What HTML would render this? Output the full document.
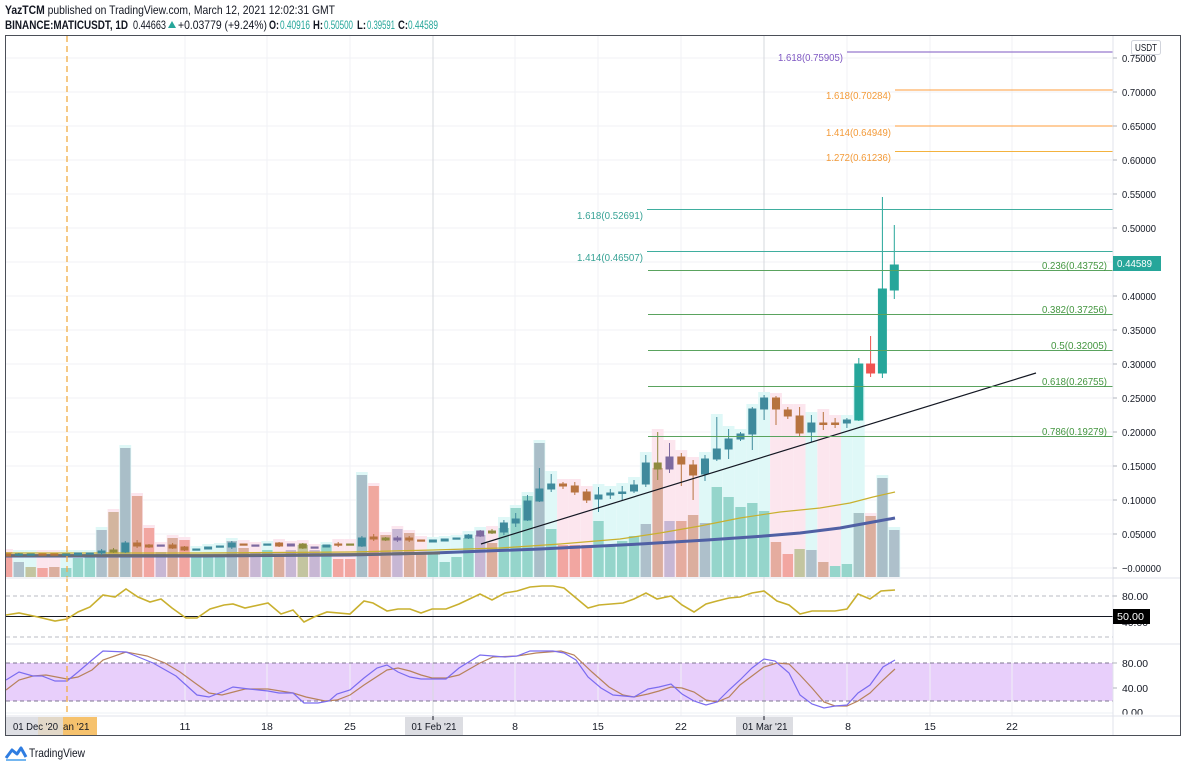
<!DOCTYPE html>
<html><head><meta charset="utf-8"><style>
html,body{margin:0;padding:0;background:#fff;}
svg{display:block;font-family:"Liberation Sans",sans-serif;}
</style></head><body>
<svg width="1186" height="768" viewBox="0 0 1186 768" xmlns="http://www.w3.org/2000/svg">
<rect width="1186" height="768" fill="#fff"/>
<!-- header -->
<text x="5" y="14" font-size="12" fill="#131722" textLength="330" lengthAdjust="spacingAndGlyphs"><tspan font-weight="bold">YazTCM</tspan> published on TradingView.com, March 12, 2021 12:02:31 GMT</text>
<g font-size="12" fill="#131722">
<text x="5" y="29" font-weight="bold" textLength="123" lengthAdjust="spacingAndGlyphs">BINANCE:MATICUSDT, 1D</text>
<text x="133" y="29" textLength="33" lengthAdjust="spacingAndGlyphs">0.44663</text>
<polygon points="168,28 172,21 176,28" fill="#26a69a"/>
<text x="178" y="29" textLength="89" lengthAdjust="spacingAndGlyphs">+0.03779 (+9.24%)</text>
<text x="269" y="29" font-weight="bold" textLength="10" lengthAdjust="spacingAndGlyphs">O:</text>
<text x="280" y="29" fill="#26a69a" textLength="30" lengthAdjust="spacingAndGlyphs">0.40916</text>
<text x="313" y="29" font-weight="bold" textLength="10" lengthAdjust="spacingAndGlyphs">H:</text>
<text x="324" y="29" fill="#26a69a" textLength="29" lengthAdjust="spacingAndGlyphs">0.50500</text>
<text x="357" y="29" font-weight="bold" textLength="9" lengthAdjust="spacingAndGlyphs">L:</text>
<text x="367" y="29" fill="#26a69a" textLength="28" lengthAdjust="spacingAndGlyphs">0.39591</text>
<text x="398" y="29" font-weight="bold" textLength="10" lengthAdjust="spacingAndGlyphs">C:</text>
<text x="408" y="29" fill="#26a69a" textLength="30" lengthAdjust="spacingAndGlyphs">0.44589</text>
</g>

<!-- stoch fill -->
<rect x="6" y="663" width="1107" height="38" fill="#e8cffb"/>

<!-- grid -->
<g stroke="#f0f2f6" stroke-width="1">
<line x1="6" y1="58" x2="1113" y2="58"/><line x1="6" y1="92" x2="1113" y2="92"/><line x1="6" y1="126" x2="1113" y2="126"/><line x1="6" y1="160" x2="1113" y2="160"/><line x1="6" y1="194" x2="1113" y2="194"/><line x1="6" y1="228" x2="1113" y2="228"/><line x1="6" y1="262" x2="1113" y2="262"/><line x1="6" y1="296" x2="1113" y2="296"/><line x1="6" y1="330" x2="1113" y2="330"/><line x1="6" y1="364" x2="1113" y2="364"/><line x1="6" y1="398" x2="1113" y2="398"/><line x1="6" y1="432" x2="1113" y2="432"/><line x1="6" y1="466" x2="1113" y2="466"/><line x1="6" y1="500" x2="1113" y2="500"/><line x1="6" y1="534" x2="1113" y2="534"/><line x1="6" y1="568" x2="1113" y2="568"/>
<line x1="185" y1="36" x2="185" y2="716"/><line x1="267" y1="36" x2="267" y2="716"/><line x1="350" y1="36" x2="350" y2="716"/><line x1="515" y1="36" x2="515" y2="716"/><line x1="598" y1="36" x2="598" y2="716"/><line x1="681" y1="36" x2="681" y2="716"/><line x1="847" y1="36" x2="847" y2="716"/><line x1="930" y1="36" x2="930" y2="716"/><line x1="1012" y1="36" x2="1012" y2="716"/>
</g>
<g stroke="#d6d8de" stroke-width="1">
<line x1="433" y1="36" x2="433" y2="716"/><line x1="764" y1="36" x2="764" y2="716"/>
</g>

<!-- background columns -->
<g>
<g fill="#dff8f7">
<rect x="12.9" y="550" width="11.8" height="27"/><rect x="24.8" y="550" width="11.8" height="27"/><rect x="60.3" y="550" width="11.8" height="27"/><rect x="72.1" y="550" width="11.8" height="27"/><rect x="83.9" y="550" width="11.8" height="27"/><rect x="95.7" y="527" width="11.8" height="50"/><rect x="119.4" y="445" width="11.8" height="132"/><rect x="190.4" y="546" width="11.8" height="31"/><rect x="202.2" y="544" width="11.8" height="33"/><rect x="214" y="543" width="11.8" height="34"/><rect x="225.9" y="538" width="11.8" height="39"/><rect x="261.4" y="541" width="11.8" height="36"/><rect x="320.5" y="542" width="11.8" height="35"/><rect x="356" y="472" width="11.8" height="105"/><rect x="427" y="537" width="11.8" height="40"/><rect x="438.8" y="536" width="11.8" height="41"/><rect x="450.6" y="535" width="11.8" height="42"/><rect x="462.5" y="531" width="11.8" height="46"/><rect x="474.3" y="527" width="11.8" height="50"/><rect x="498" y="517" width="11.8" height="60"/><rect x="509.8" y="505" width="11.8" height="72"/><rect x="521.6" y="492" width="11.8" height="85"/><rect x="533.5" y="440" width="11.8" height="137"/><rect x="545.3" y="471" width="11.8" height="106"/><rect x="592.6" y="484" width="11.8" height="93"/><rect x="604.4" y="486" width="11.8" height="91"/><rect x="616.3" y="483" width="11.8" height="94"/><rect x="628.1" y="477" width="11.8" height="100"/><rect x="639.9" y="452" width="11.8" height="125"/><rect x="699.1" y="452" width="11.8" height="125"/><rect x="710.9" y="414" width="11.8" height="163"/><rect x="722.7" y="426" width="11.8" height="151"/><rect x="734.6" y="429" width="11.8" height="148"/><rect x="746.4" y="404" width="11.8" height="173"/><rect x="758.2" y="392" width="11.8" height="185"/><rect x="805.5" y="412" width="11.8" height="165"/><rect x="841" y="415" width="11.8" height="162"/><rect x="852.9" y="384" width="11.8" height="193"/><rect x="876.5" y="475" width="11.8" height="102"/><rect x="888.4" y="527" width="11.8" height="50"/>
</g>
<g fill="#fce6ee">
<rect x="6" y="549" width="6.9" height="28"/><rect x="36.6" y="550" width="11.8" height="27"/><rect x="48.4" y="550" width="11.8" height="27"/><rect x="107.6" y="509" width="11.8" height="68"/><rect x="131.2" y="493" width="11.8" height="84"/><rect x="143.1" y="525" width="11.8" height="52"/><rect x="154.9" y="542" width="11.8" height="35"/><rect x="166.7" y="535" width="11.8" height="42"/><rect x="178.6" y="537" width="11.8" height="40"/><rect x="237.7" y="540" width="11.8" height="37"/><rect x="249.5" y="542" width="11.8" height="35"/><rect x="273.2" y="539" width="11.8" height="38"/><rect x="285" y="541" width="11.8" height="36"/><rect x="296.9" y="540" width="11.8" height="37"/><rect x="308.7" y="544" width="11.8" height="33"/><rect x="332.3" y="539" width="11.8" height="38"/><rect x="344.2" y="539" width="11.8" height="38"/><rect x="367.8" y="483" width="11.8" height="94"/><rect x="379.7" y="532" width="11.8" height="45"/><rect x="391.5" y="526" width="11.8" height="51"/><rect x="403.3" y="530" width="11.8" height="47"/><rect x="415.2" y="536" width="11.8" height="41"/><rect x="486.1" y="526" width="11.8" height="51"/><rect x="557.1" y="479" width="11.8" height="98"/><rect x="568.9" y="479" width="11.8" height="98"/><rect x="580.8" y="486" width="11.8" height="91"/><rect x="651.8" y="429" width="11.8" height="148"/><rect x="663.6" y="440" width="11.8" height="137"/><rect x="675.4" y="450" width="11.8" height="127"/><rect x="687.2" y="457" width="11.8" height="120"/><rect x="770.1" y="393" width="11.8" height="184"/><rect x="781.9" y="404" width="11.8" height="173"/><rect x="793.7" y="404" width="11.8" height="173"/><rect x="817.4" y="409" width="11.8" height="168"/><rect x="829.2" y="415" width="11.8" height="162"/><rect x="864.7" y="513" width="11.8" height="64"/>
</g>
</g>

<!-- volume bars -->
<g>
<rect x="6" y="552" width="6.2" height="25" fill="#f2a6a1"/>
<rect x="13.6" y="562" width="10.4" height="15" fill="#aec0cb"/>
<rect x="25.5" y="567" width="10.4" height="10" fill="#c3c5a0"/>
<rect x="37.3" y="568" width="10.4" height="9" fill="#f2a6a1"/>
<rect x="49.1" y="567" width="10.4" height="10" fill="#dbae9e"/>
<rect x="61" y="568" width="10.4" height="9" fill="#95d5cb"/>
<rect x="72.8" y="558" width="10.4" height="19" fill="#95d5cb"/>
<rect x="84.6" y="557" width="10.4" height="20" fill="#95d5cb"/>
<rect x="96.4" y="530" width="10.4" height="47" fill="#aec0cb"/>
<rect x="108.3" y="512" width="10.4" height="65" fill="#d3b59e"/>
<rect x="120.1" y="448" width="10.4" height="129" fill="#a9bec8"/>
<rect x="131.9" y="496" width="10.4" height="81" fill="#e2aa9b"/>
<rect x="143.8" y="528" width="10.4" height="49" fill="#f2a6a1"/>
<rect x="155.6" y="552" width="10.4" height="25" fill="#c7b7d4"/>
<rect x="167.4" y="538" width="10.4" height="39" fill="#dbae9e"/>
<rect x="179.3" y="540" width="10.4" height="37" fill="#f2a6a1"/>
<rect x="191.1" y="557" width="10.4" height="20" fill="#95d5cb"/>
<rect x="202.9" y="557" width="10.4" height="20" fill="#95d5cb"/>
<rect x="214.7" y="557" width="10.4" height="20" fill="#95d5cb"/>
<rect x="226.6" y="541" width="10.4" height="36" fill="#aec0cb"/>
<rect x="238.4" y="548" width="10.4" height="29" fill="#dbae9e"/>
<rect x="250.2" y="553" width="10.4" height="24" fill="#c7b7d4"/>
<rect x="262.1" y="550" width="10.4" height="27" fill="#95d5cb"/>
<rect x="273.9" y="555" width="10.4" height="22" fill="#dbae9e"/>
<rect x="285.7" y="550" width="10.4" height="27" fill="#c7b7d4"/>
<rect x="297.6" y="545" width="10.4" height="32" fill="#c3c5a0"/>
<rect x="309.4" y="550" width="10.4" height="27" fill="#c7b7d4"/>
<rect x="321.2" y="545" width="10.4" height="32" fill="#95d5cb"/>
<rect x="333" y="559" width="10.4" height="18" fill="#f2a6a1"/>
<rect x="344.9" y="559" width="10.4" height="18" fill="#f2a6a1"/>
<rect x="356.7" y="475" width="10.4" height="102" fill="#a9bec8"/>
<rect x="368.5" y="486" width="10.4" height="91" fill="#f0a89f"/>
<rect x="380.4" y="535" width="10.4" height="42" fill="#dbae9e"/>
<rect x="392.2" y="529" width="10.4" height="48" fill="#c7b7d4"/>
<rect x="404" y="533" width="10.4" height="44" fill="#dbae9e"/>
<rect x="415.9" y="553" width="10.4" height="24" fill="#dbae9e"/>
<rect x="427.7" y="553" width="10.4" height="24" fill="#95d5cb"/>
<rect x="439.5" y="562" width="10.4" height="15" fill="#95d5cb"/>
<rect x="451.3" y="557" width="10.4" height="20" fill="#95d5cb"/>
<rect x="463.2" y="538" width="10.4" height="39" fill="#95d5cb"/>
<rect x="475" y="535" width="10.4" height="42" fill="#c7b7d4"/>
<rect x="486.8" y="543" width="10.4" height="34" fill="#dbae9e"/>
<rect x="498.7" y="528" width="10.4" height="49" fill="#95d5cb"/>
<rect x="510.5" y="508" width="10.4" height="69" fill="#95d5cb"/>
<rect x="522.3" y="496" width="10.4" height="81" fill="#95d5cb"/>
<rect x="534.2" y="443" width="10.4" height="134" fill="#a9bec8"/>
<rect x="546" y="529" width="10.4" height="48" fill="#95d5cb"/>
<rect x="557.8" y="545" width="10.4" height="32" fill="#f2a6a1"/>
<rect x="569.6" y="545" width="10.4" height="32" fill="#f2a6a1"/>
<rect x="581.5" y="545" width="10.4" height="32" fill="#f2a6a1"/>
<rect x="593.3" y="521" width="10.4" height="56" fill="#95d5cb"/>
<rect x="605.1" y="545" width="10.4" height="32" fill="#95d5cb"/>
<rect x="617" y="541" width="10.4" height="36" fill="#95d5cb"/>
<rect x="628.8" y="536" width="10.4" height="41" fill="#95d5cb"/>
<rect x="640.6" y="524" width="10.4" height="53" fill="#aec0cb"/>
<rect x="652.5" y="468" width="10.4" height="109" fill="#dbae9e"/>
<rect x="664.3" y="521" width="10.4" height="56" fill="#c7b7d4"/>
<rect x="676.1" y="521" width="10.4" height="56" fill="#e5ac9f"/>
<rect x="687.9" y="515" width="10.4" height="62" fill="#dbae9e"/>
<rect x="699.8" y="523" width="10.4" height="54" fill="#aec0cb"/>
<rect x="711.6" y="487" width="10.4" height="90" fill="#95d5cb"/>
<rect x="723.4" y="497" width="10.4" height="80" fill="#95d5cb"/>
<rect x="735.3" y="507" width="10.4" height="70" fill="#95d5cb"/>
<rect x="747.1" y="503" width="10.4" height="74" fill="#95d5cb"/>
<rect x="758.9" y="511" width="10.4" height="66" fill="#95d5cb"/>
<rect x="770.8" y="542" width="10.4" height="35" fill="#e5ac9f"/>
<rect x="782.6" y="554" width="10.4" height="23" fill="#f2a6a1"/>
<rect x="794.4" y="549" width="10.4" height="28" fill="#c3c5a0"/>
<rect x="806.2" y="550" width="10.4" height="27" fill="#aec0cb"/>
<rect x="818.1" y="562" width="10.4" height="15" fill="#dbae9e"/>
<rect x="829.9" y="566" width="10.4" height="11" fill="#95d5cb"/>
<rect x="841.7" y="564" width="10.4" height="13" fill="#95d5cb"/>
<rect x="853.6" y="513" width="10.4" height="64" fill="#a9c4c8"/>
<rect x="865.4" y="516" width="10.4" height="61" fill="#dbae9e"/>
<rect x="877.2" y="478" width="10.4" height="99" fill="#a9bec8"/>
<rect x="889.1" y="530" width="10.4" height="47" fill="#aec0cb"/>
</g>

<!-- moving averages -->
<polyline fill="none" stroke="#5060a4" stroke-width="3" points="6,556 200,556 350,555 433,553 540,549 640,544 707,540 764,536 800,533 840,528 873,522 895,518"/>
<polyline fill="none" stroke="#6f6f6f" stroke-width="3" stroke-opacity="0.85" points="6,555.5 200,555.5 350,554.5 440,553"/>
<polyline fill="none" stroke="#c8b02e" stroke-width="1.2" points="6,553 200,553 350,552 433,550 500,548 560,544 620,539 660,533 700,526 740,518 780,512 820,508 850,503 873,497 895,492"/>

<!-- candles -->
<g stroke-width="1">
<g stroke="#3f8a9c" fill="#3f8a9c">
<line x1="18.8" y1="553" x2="18.8" y2="556"/><rect x="15.3" y="554" width="7" height="1.2"/>
<rect x="27.2" y="554" width="7" height="1.2"/><rect x="62.7" y="554" width="7" height="1.2"/>
<rect x="74.5" y="553" width="7" height="2"/><rect x="86.3" y="553" width="7" height="1.2"/>
<line x1="101.6" y1="549" x2="101.6" y2="555"/><rect x="98.1" y="551" width="7" height="2"/>
<line x1="125.3" y1="541" x2="125.3" y2="553"/><rect x="121.8" y="543" width="7" height="9"/>
<rect x="192.8" y="549" width="7" height="1.2"/><rect x="204.6" y="547" width="7" height="2"/><rect x="216.4" y="546" width="7" height="1.2"/>
<line x1="231.8" y1="541" x2="231.8" y2="549"/><rect x="228.3" y="543" width="7" height="4"/>
<rect x="263.8" y="544" width="7" height="1.2"/><rect x="322.9" y="545" width="7" height="2"/>
<line x1="361.9" y1="536" x2="361.9" y2="547"/><rect x="358.4" y="538" width="7" height="8"/>
<rect x="429.4" y="540" width="7" height="2"/><rect x="441.2" y="539" width="7" height="2"/><rect x="453" y="538" width="7" height="1.2"/>
<line x1="468.4" y1="534" x2="468.4" y2="539"/><rect x="464.9" y="535" width="7" height="3"/>
<line x1="503.9" y1="520" x2="503.9" y2="535"/><rect x="500.4" y="523" width="7" height="9"/>
<line x1="515.7" y1="513" x2="515.7" y2="527"/><rect x="512.2" y="519" width="7" height="4"/>
<line x1="527.5" y1="495" x2="527.5" y2="521"/><rect x="524" y="501" width="7" height="19"/>
<line x1="539.4" y1="468" x2="539.4" y2="502"/><rect x="535.9" y="489" width="7" height="12"/>
<line x1="551.2" y1="474" x2="551.2" y2="492"/><rect x="547.7" y="484" width="7" height="5"/>
<line x1="598.5" y1="487" x2="598.5" y2="512"/><rect x="595" y="495" width="7" height="4"/>
<line x1="610.3" y1="489" x2="610.3" y2="499"/><rect x="606.8" y="493" width="7" height="2"/>
<line x1="622.2" y1="486" x2="622.2" y2="500"/><rect x="618.7" y="492" width="7" height="1.5"/>
<line x1="634" y1="480" x2="634" y2="493"/><rect x="630.5" y="485" width="7" height="6"/>
<line x1="645.8" y1="455" x2="645.8" y2="487"/><rect x="642.3" y="463" width="7" height="21"/>
<line x1="705" y1="455" x2="705" y2="481"/><rect x="701.5" y="459" width="7" height="15"/>
<line x1="716.8" y1="417" x2="716.8" y2="461"/><rect x="713.3" y="449" width="7" height="10"/>
<line x1="728.6" y1="429" x2="728.6" y2="459"/><rect x="725.1" y="439" width="7" height="10"/>
<line x1="740.5" y1="432" x2="740.5" y2="441"/><rect x="737" y="434" width="7" height="5"/>
<line x1="752.3" y1="407" x2="752.3" y2="450"/><rect x="748.8" y="409" width="7" height="25"/>
<line x1="764.1" y1="395" x2="764.1" y2="420"/><rect x="760.6" y="398" width="7" height="11"/>
<line x1="811.4" y1="415" x2="811.4" y2="442"/><rect x="807.9" y="423" width="7" height="9"/>
<line x1="846.9" y1="418" x2="846.9" y2="428"/><rect x="843.4" y="420" width="7" height="3"/>
</g>
<g stroke="#b7733f" fill="#b7733f">
<rect x="6" y="554" width="4.5" height="2"/>
<rect x="39" y="554" width="7" height="1.2"/><rect x="50.8" y="554" width="7" height="1.2"/>
<line x1="137.1" y1="540" x2="137.1" y2="548"/><rect x="133.6" y="543" width="7" height="3"/>
<line x1="149" y1="544" x2="149" y2="548"/><rect x="145.5" y="545" width="7" height="2"/>
<line x1="172.6" y1="543" x2="172.6" y2="549"/><rect x="169.1" y="545" width="7" height="3"/>
<line x1="184.5" y1="546" x2="184.5" y2="551"/><rect x="181" y="547" width="7" height="3"/>
<rect x="240.1" y="544" width="7" height="1.2"/>
<line x1="279.1" y1="542" x2="279.1" y2="547"/><rect x="275.6" y="543" width="7" height="3"/>
<line x1="338.2" y1="542" x2="338.2" y2="547"/><rect x="334.7" y="544" width="7" height="1.2"/>
<line x1="373.7" y1="534" x2="373.7" y2="541"/><rect x="370.2" y="537" width="7" height="2"/>
<line x1="409.2" y1="536" x2="409.2" y2="542"/><rect x="405.7" y="538" width="7" height="2"/>
<rect x="417.6" y="540" width="7" height="1.2"/>
<line x1="563" y1="482" x2="563" y2="489"/><rect x="559.5" y="484" width="7" height="2"/>
<line x1="574.8" y1="482" x2="574.8" y2="495"/><rect x="571.3" y="486" width="7" height="6"/>
<line x1="586.7" y1="489" x2="586.7" y2="503"/><rect x="583.2" y="492" width="7" height="8"/>
<line x1="681.3" y1="453" x2="681.3" y2="486"/><rect x="677.8" y="457" width="7" height="7"/>
<line x1="693.1" y1="460" x2="693.1" y2="500"/><rect x="689.6" y="465" width="7" height="10"/>
<line x1="776" y1="396" x2="776" y2="425"/><rect x="772.5" y="398" width="7" height="11"/>
<line x1="787.8" y1="407" x2="787.8" y2="419"/><rect x="784.3" y="410" width="7" height="6"/>
<line x1="799.6" y1="407" x2="799.6" y2="437"/><rect x="796.1" y="416" width="7" height="17"/>
<line x1="823.3" y1="412" x2="823.3" y2="430"/><rect x="819.8" y="423" width="7" height="1.5"/>
<line x1="835.1" y1="418" x2="835.1" y2="428"/><rect x="831.6" y="423" width="7" height="1.5"/>
</g>
<g stroke="#7d6aa0" fill="#7d6aa0">
<rect x="157.3" y="545" width="7" height="1.2"/><rect x="251.9" y="545" width="7" height="1.2"/>
<rect x="287.4" y="544" width="7" height="2"/><rect x="311.1" y="547" width="7" height="1.2"/>
<line x1="397.4" y1="536" x2="397.4" y2="542"/><rect x="393.9" y="538" width="7" height="2"/>
<line x1="480.2" y1="530" x2="480.2" y2="537"/><rect x="476.7" y="531" width="7" height="5"/>
<line x1="669.5" y1="443" x2="669.5" y2="473"/><rect x="666" y="457" width="7" height="12"/>
</g>
<g stroke="#8f8a3e" fill="#8f8a3e">
<line x1="113.5" y1="548" x2="113.5" y2="553"/><rect x="110" y="550" width="7" height="2"/>
<line x1="302.8" y1="543" x2="302.8" y2="549"/><rect x="299.3" y="544" width="7" height="4"/>
<rect x="346.6" y="544" width="7" height="1.2"/>
<line x1="385.6" y1="537" x2="385.6" y2="541"/><rect x="382.1" y="538" width="7" height="2"/>
<line x1="492" y1="529" x2="492" y2="534"/><rect x="488.5" y="531" width="7" height="2"/>
<line x1="657.7" y1="432" x2="657.7" y2="480"/><rect x="654.2" y="463" width="7" height="6"/>
</g>
<g stroke="#26a69a" fill="#26a69a">
<line x1="858.8" y1="358" x2="858.8" y2="421"/><rect x="854.8" y="364" width="8" height="56"/>
<line x1="882.4" y1="197" x2="882.4" y2="378"/><rect x="878.4" y="289" width="8" height="84"/>
<line x1="894.3" y1="225" x2="894.3" y2="299"/><rect x="890.3" y="265" width="8" height="25"/>
</g>
<g stroke="#ef5350" fill="#ef5350">
<line x1="870.6" y1="336" x2="870.6" y2="377"/><rect x="866.6" y="364" width="8" height="9"/>
</g>
</g>

<!-- trendline -->
<line x1="481" y1="544" x2="1036" y2="373" stroke="#131722" stroke-width="1.2"/>

<!-- fib lines -->
<line x1="847" y1="52" x2="1113" y2="52" stroke="#7e57c2" stroke-width="1"/>
<g stroke="#ff9d3b" stroke-width="1">
<line x1="895" y1="90" x2="1113" y2="90"/><line x1="895" y1="126" x2="1113" y2="126"/>
</g>
<line x1="895" y1="151.5" x2="1113" y2="151.5" stroke="#f3b23e" stroke-width="1"/>
<g stroke="#3fae9f" stroke-width="1">
<line x1="647" y1="209.5" x2="1113" y2="209.5"/><line x1="647" y1="251.5" x2="1113" y2="251.5"/>
</g>
<g stroke="#5aa35e" stroke-width="1">
<line x1="648" y1="270.5" x2="1113" y2="270.5"/><line x1="648" y1="314.5" x2="1113" y2="314.5"/><line x1="648" y1="350.5" x2="1113" y2="350.5"/><line x1="648" y1="386.5" x2="1113" y2="386.5"/><line x1="648" y1="436.5" x2="1113" y2="436.5"/>
</g>
<g font-size="10.5">
<text x="843" y="61" fill="#7e57c2" text-anchor="end" textLength="65" lengthAdjust="spacingAndGlyphs">1.618(0.75905)</text>
<text x="891" y="99" fill="#f39a38" text-anchor="end" textLength="65" lengthAdjust="spacingAndGlyphs">1.618(0.70284)</text>
<text x="891" y="136" fill="#f39a38" text-anchor="end" textLength="65" lengthAdjust="spacingAndGlyphs">1.414(0.64949)</text>
<text x="891" y="161" fill="#f39a38" text-anchor="end" textLength="65" lengthAdjust="spacingAndGlyphs">1.272(0.61236)</text>
<text x="577" y="219" fill="#36a295" textLength="66" lengthAdjust="spacingAndGlyphs">1.618(0.52691)</text>
<text x="577" y="261" fill="#36a295" textLength="66" lengthAdjust="spacingAndGlyphs">1.414(0.46507)</text>
<text x="1107" y="269" fill="#43953f" text-anchor="end" textLength="65" lengthAdjust="spacingAndGlyphs">0.236(0.43752)</text>
<text x="1107" y="313" fill="#43953f" text-anchor="end" textLength="65" lengthAdjust="spacingAndGlyphs">0.382(0.37256)</text>
<text x="1107" y="349" fill="#43953f" text-anchor="end" textLength="56" lengthAdjust="spacingAndGlyphs">0.5(0.32005)</text>
<text x="1107" y="385" fill="#43953f" text-anchor="end" textLength="65" lengthAdjust="spacingAndGlyphs">0.618(0.26755)</text>
<text x="1107" y="435" fill="#43953f" text-anchor="end" textLength="65" lengthAdjust="spacingAndGlyphs">0.786(0.19279)</text>
</g>

<!-- RSI pane -->
<g stroke="#b8bbc3" stroke-width="1" stroke-dasharray="4,3">
<line x1="6" y1="596" x2="1113" y2="596"/><line x1="6" y1="637" x2="1113" y2="637"/>
</g>
<line x1="6" y1="616.5" x2="1113" y2="616.5" stroke="#131722" stroke-width="1"/>
<polyline fill="none" stroke="#c9b02f" stroke-width="1.6" points="6,615 19,613 38,617 55,621 67,619 78,612 90,607 103,595 115,597 126,589 138,597 150,602 161,599 172,608 186,618 197,618 210,609 224,605 233,604 245,608 268,603 281,614 293,610 304,622 314,617 327,612 350,614 364,601 373,603 387,611 398,609 410,609 421,613 432,609 446,609 459,604 480,594 492,600 505,593 517,591 530,587 542,586 553,586 564,588 576,598 588,608 599,605 611,604 623,603 634,599 646,593 657,599 671,596 682,605 694,612 706,604 717,601 729,598 740,597 752,593 764,591 777,601 789,605 800,614 812,611 824,611 835,611 847,609 858,594 870,599 881,591 895,590"/>

<!-- Stoch pane -->
<g stroke="#7e7590" stroke-width="1" stroke-dasharray="4,3">
<line x1="6" y1="663" x2="1113" y2="663"/><line x1="6" y1="701" x2="1113" y2="701"/>
</g>
<line x1="6" y1="713" x2="1113" y2="713" stroke="#eef0f4" stroke-width="1"/>
<polyline fill="none" stroke="#b7825c" stroke-width="1.2" points="6,690 19,680 33,676 46,675 67,679 78,677 92,670 103,660 126,652 147,656 165,663 180,672 195,683 209,693 222,695 245,689 268,689 293,693 306,697 325,701 337,700 350,695 364,685 387,670 398,668 410,671 421,675 432,678 446,678 459,675 480,663 493,657 517,656 536,653 561,651 574,655 592,672 609,687 623,695 634,697 648,694 659,691 671,687 682,688 694,692 706,700 717,702 729,697 740,685 752,676 764,667 777,663 789,664 800,675 812,688 824,702 835,706 847,706 858,701 870,693 883,680 895,669"/>
<polyline fill="none" stroke="#7b6cf0" stroke-width="1.2" points="6,680 19,672 33,676 42,676 55,681 67,681 78,672 92,660 103,651 126,652 153,663 176,676 197,695 209,697 222,692 233,687 249,689 268,691 279,693 293,693 304,703 318,703 329,701 337,694 350,690 364,678 377,668 387,665 398,672 410,677 421,679 432,679 446,679 459,668 480,655 505,657 517,656 530,651 553,651 564,653 576,660 588,677 601,688 613,695 624,696 634,697 648,689 659,687 671,684 682,694 694,701 706,705 717,702 729,690 740,680 752,668 764,659 775,661 789,673 800,695 812,704 824,708 835,706 847,705 858,693 870,685 883,667 895,660"/>

<!-- orange dashed vertical -->
<line x1="67" y1="36" x2="67" y2="716" stroke="#f2ad45" stroke-width="1.3" stroke-dasharray="6,4"/>

<!-- separators & frame -->
<g stroke="#e0e3eb" stroke-width="1">
<line x1="6" y1="578" x2="1180" y2="578"/><line x1="6" y1="644" x2="1180" y2="644"/><line x1="6" y1="716" x2="1180" y2="716"/>
<line x1="1113" y1="36" x2="1113" y2="735"/>
</g>
<rect x="5.5" y="35.5" width="1175" height="700" fill="none" stroke="#4b4f58" stroke-width="1"/>

<!-- price axis -->
<g stroke="#b2b5be" stroke-width="1">
<line x1="1113" y1="58" x2="1117" y2="58"/><line x1="1113" y1="92" x2="1117" y2="92"/><line x1="1113" y1="126" x2="1117" y2="126"/><line x1="1113" y1="160" x2="1117" y2="160"/><line x1="1113" y1="194" x2="1117" y2="194"/><line x1="1113" y1="228" x2="1117" y2="228"/><line x1="1113" y1="296" x2="1117" y2="296"/><line x1="1113" y1="330" x2="1117" y2="330"/><line x1="1113" y1="364" x2="1117" y2="364"/><line x1="1113" y1="398" x2="1117" y2="398"/><line x1="1113" y1="432" x2="1117" y2="432"/><line x1="1113" y1="466" x2="1117" y2="466"/><line x1="1113" y1="500" x2="1117" y2="500"/><line x1="1113" y1="534" x2="1117" y2="534"/><line x1="1113" y1="568" x2="1117" y2="568"/>
<line x1="1113" y1="596" x2="1117" y2="596"/><line x1="1113" y1="663" x2="1117" y2="663"/><line x1="1113" y1="688" x2="1117" y2="688"/>
</g>
<g font-size="10.5" fill="#131722">
<text x="1122" y="62" textLength="34" lengthAdjust="spacingAndGlyphs">0.75000</text>
<text x="1122" y="96" textLength="34" lengthAdjust="spacingAndGlyphs">0.70000</text>
<text x="1122" y="130" textLength="34" lengthAdjust="spacingAndGlyphs">0.65000</text>
<text x="1122" y="164" textLength="34" lengthAdjust="spacingAndGlyphs">0.60000</text>
<text x="1122" y="198" textLength="34" lengthAdjust="spacingAndGlyphs">0.55000</text>
<text x="1122" y="232" textLength="34" lengthAdjust="spacingAndGlyphs">0.50000</text>
<text x="1122" y="300" textLength="34" lengthAdjust="spacingAndGlyphs">0.40000</text>
<text x="1122" y="334" textLength="34" lengthAdjust="spacingAndGlyphs">0.35000</text>
<text x="1122" y="368" textLength="34" lengthAdjust="spacingAndGlyphs">0.30000</text>
<text x="1122" y="402" textLength="34" lengthAdjust="spacingAndGlyphs">0.25000</text>
<text x="1122" y="436" textLength="34" lengthAdjust="spacingAndGlyphs">0.20000</text>
<text x="1122" y="470" textLength="34" lengthAdjust="spacingAndGlyphs">0.15000</text>
<text x="1122" y="504" textLength="34" lengthAdjust="spacingAndGlyphs">0.10000</text>
<text x="1122" y="538" textLength="34" lengthAdjust="spacingAndGlyphs">0.05000</text>
<text x="1122" y="572" textLength="39" lengthAdjust="spacingAndGlyphs">−0.00000</text>
<text x="1122" y="600" textLength="26" lengthAdjust="spacingAndGlyphs">80.00</text>
<text x="1122" y="626" textLength="26" lengthAdjust="spacingAndGlyphs">40.00</text>
<text x="1122" y="667" textLength="26" lengthAdjust="spacingAndGlyphs">80.00</text>
<text x="1122" y="692" textLength="26" lengthAdjust="spacingAndGlyphs">40.00</text>
<text x="1122" y="716" textLength="21" lengthAdjust="spacingAndGlyphs">0.00</text>
</g>
<rect x="1114" y="714.5" width="66" height="1.5" fill="#fff"/>
<line x1="6" y1="716" x2="1180" y2="716" stroke="#e0e3eb" stroke-width="1"/>
<!-- USDT -->
<rect x="1131.5" y="40.5" width="29" height="14" rx="2" fill="#fff" stroke="#d1d4dc"/>
<text x="1135" y="51" font-size="10" fill="#131722" textLength="22" lengthAdjust="spacingAndGlyphs">USDT</text>
<!-- current price -->
<line x1="1113" y1="263" x2="1117" y2="263" stroke="#26a69a"/>
<rect x="1113" y="256" width="48" height="15" fill="#26a69a"/>
<text x="1117" y="267" font-size="10.5" fill="#fff" textLength="35" lengthAdjust="spacingAndGlyphs">0.44589</text>
<!-- 50.00 -->
<rect x="1113" y="609" width="37" height="15" fill="#000"/>
<text x="1117" y="620" font-size="10.5" fill="#fff" textLength="27" lengthAdjust="spacingAndGlyphs">50.00</text>

<!-- time axis -->
<rect x="38" y="717" width="59" height="18" fill="#f6c26d"/>
<text x="67" y="730" font-size="10.5" fill="#131722" text-anchor="middle" textLength="45" lengthAdjust="spacingAndGlyphs">01 Jan '21</text>
<rect x="6" y="717" width="57" height="18" fill="#dcdde2" fill-opacity="0.93"/>
<rect x="38" y="717" width="25" height="18" fill="#e2d8c8"/>
<text x="13" y="730" font-size="10.5" fill="#131722" textLength="45" lengthAdjust="spacingAndGlyphs">01 Dec '20</text>
<rect x="405" y="717" width="58" height="18" fill="#dcdde2"/>
<rect x="736" y="717" width="57" height="18" fill="#dcdde2"/>
<g font-size="10.5" fill="#131722" text-anchor="middle">
<text x="185" y="730">11</text>
<text x="267" y="730">18</text>
<text x="350" y="730">25</text>
<text x="434" y="730" textLength="45" lengthAdjust="spacingAndGlyphs">01 Feb '21</text>
<text x="515" y="730">8</text>
<text x="598" y="730">15</text>
<text x="681" y="730">22</text>
<text x="765" y="730" textLength="45" lengthAdjust="spacingAndGlyphs">01 Mar '21</text>
<text x="848" y="730">8</text>
<text x="930" y="730">15</text>
<text x="1012" y="730">22</text>
</g>
<line x1="433" y1="716" x2="433" y2="720" stroke="#131722"/>
<line x1="764" y1="716" x2="764" y2="720" stroke="#131722"/>

<!-- footer logo -->
<g>
<path d="M6,758 L12,750 L17,754 L21,748 L26,757" fill="none" stroke="#2f7de1" stroke-width="3" stroke-linejoin="round"/>
<path d="M6,760 L26,760" stroke="#74b6f0" stroke-width="2"/>
</g>
<text x="29" y="757" font-size="12" fill="#131722" textLength="56" lengthAdjust="spacingAndGlyphs">TradingView</text>
</svg>
</body></html>
